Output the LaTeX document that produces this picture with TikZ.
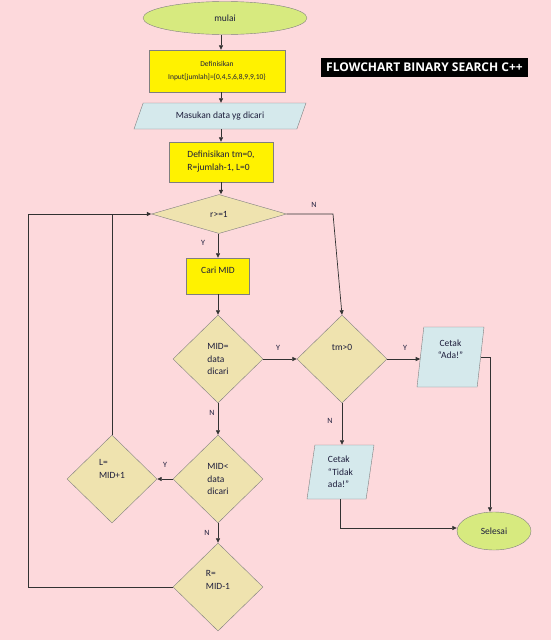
\documentclass[tikz,border=0pt]{standalone}
\usepackage{fontspec}
\setmainfont{Carlito}
\newfontfamily\titlefont{Open Sans}
\usetikzlibrary{shapes.geometric,arrows.meta}
\definecolor{bg}{RGB}{253,217,220}
\definecolor{termc}{RGB}{215,234,127}
\definecolor{procy}{RGB}{255,242,0}
\definecolor{decc}{RGB}{239,227,175}
\definecolor{ioc}{RGB}{213,233,236}
\definecolor{bord}{RGB}{127,127,127}
\definecolor{linec}{RGB}{50,50,50}
\definecolor{txt}{RGB}{30,30,60}
\begin{document}
\begin{tikzpicture}[x=1pt,y=-1pt,
  base/.style={font=\fontsize{9.5}{12.5}\selectfont, inner sep=0pt, text=txt},
  term/.style={base, ellipse, draw=bord, fill=termc},
  proc/.style={base, rectangle, draw=bord, fill=procy},
  dec/.style={base, diamond, draw=bord, fill=decc, align=left, minimum width=90pt, minimum height=88pt},
  io/.style={base, trapezium, trapezium stretches body, draw=bord, fill=ioc},
  lbl/.style={font=\fontsize{8}{9}\selectfont, text=txt, inner sep=0pt},
  ttl/.style={fill=black, text=white, font=\titlefont\bfseries\fontsize{12}{14}\selectfont, inner sep=0pt, minimum width=207pt, minimum height=19pt},
  arr/.style={draw=linec, line width=0.7pt, -{Triangle[length=4.5pt,width=4pt]}},
  conn/.style={draw=linec, line width=0.7pt}
]
\fill[bg] (0,0) rectangle (551,640);

\node[term, minimum width=164pt, minimum height=33pt] (mulai) at (225,18) {mulai};
\node[proc, minimum width=136pt, minimum height=42pt, align=center, font=\fontsize{7.5}{13}\selectfont] (def) at (217,71) {Definisikan\\Input[jumlah]=\{0,4,5,6,8,9,9,10\}};
\node[io, trapezium left angle=42, trapezium right angle=138, minimum width=172pt, minimum height=26pt] (masuk) at (220,116) {Masukan data yg dicari};
\node[proc, minimum width=104pt, minimum height=40pt, align=left, font=\fontsize{9.5}{13}\selectfont] (init) at (221,162) {Definisikan tm=0,\\R=jumlah-1, L=0};
\node[dec, minimum width=135pt, minimum height=39pt] (cek) at (219,214) {r>=1};
\node[proc, minimum width=63pt, minimum height=36pt, text depth=12pt] (cari) at (218,276) {Cari MID};
\node[dec] (sama) at (218,359) {MID=\\data\\dicari};
\node[dec, text depth=24pt] (tm) at (342,359) {tm>0};
\node[io, trapezium left angle=79, trapezium right angle=101, minimum width=67pt, minimum height=60pt, align=center, text depth=16pt] (ada) at (450.5,357) {Cetak\\“Ada!”};
\node[io, trapezium left angle=76, trapezium right angle=104, minimum width=67pt, minimum height=54pt, align=left] (tidak) at (340.5,472) {Cetak\\“Tidak\\ada!”};
\node[dec] (kurang) at (218,479) {MID<\\data\\dicari};
\node[dec, text depth=20pt] (L) at (112,479) {L=\\MID+1};
\node[dec, text depth=14pt] (R) at (218,587) {R=\\MID-1};
\node[term, minimum width=74pt, minimum height=38pt] (selesai) at (494,531) {Selesai};
\node[ttl] (judul) at (424.5,67.5) {FLOWCHART BINARY SEARCH C++};

\node[lbl] (lN1) at (314,205) {N};
\node[lbl] (lY1) at (203,243) {Y};
\node[lbl] (lY2) at (278,348) {Y};
\node[lbl] (lY3) at (405,348) {Y};
\node[lbl] (lN2) at (212,413) {N};
\node[lbl] (lN3) at (330,421) {N};
\node[lbl] (lY4) at (165,465) {Y};
\node[lbl] (lN4) at (207,533) {N};

\coordinate (col) at (221,0);
\coordinate (outer) at (28,0);
\coordinate (nb) at (333,214);

\draw[arr] (mulai.south -| col) -- (def.north -| col);
\draw[arr] (def.south -| col) -- (masuk.north -| col);
\draw[arr] (masuk.south -| col) -- (init.north -| col);
\draw[arr] (init.south -| col) -- (cek.north -| col);
\draw[arr] (cek.south -| cari.north) -- (cari.north);
\draw[arr] (cari.south) -- (sama.north);
\draw[arr] (sama.east) -- (tm.west);
\draw[arr] (tm.east) -- (tm.east -| ada.west);
\draw[arr] (ada.east) -| ([xshift=-4pt]selesai.north);
\draw[arr] (tm.south) -- (tm.south |- tidak.north);
\draw[arr] (tidak.south) |- ([yshift=3pt]selesai.west);
\draw[arr] (sama.south) -- (kurang.north);
\draw[arr] (kurang.west) -- (L.east);
\draw[arr] (kurang.south) -- (R.north);
\draw[arr] (R.west) -- (R.west -| outer) |- (cek.west);
\draw[conn] (L.north) -- (L.north |- cek.west);
\draw[arr] (cek.east) -- (nb) -- (tm.north);
\end{tikzpicture}
\end{document}
